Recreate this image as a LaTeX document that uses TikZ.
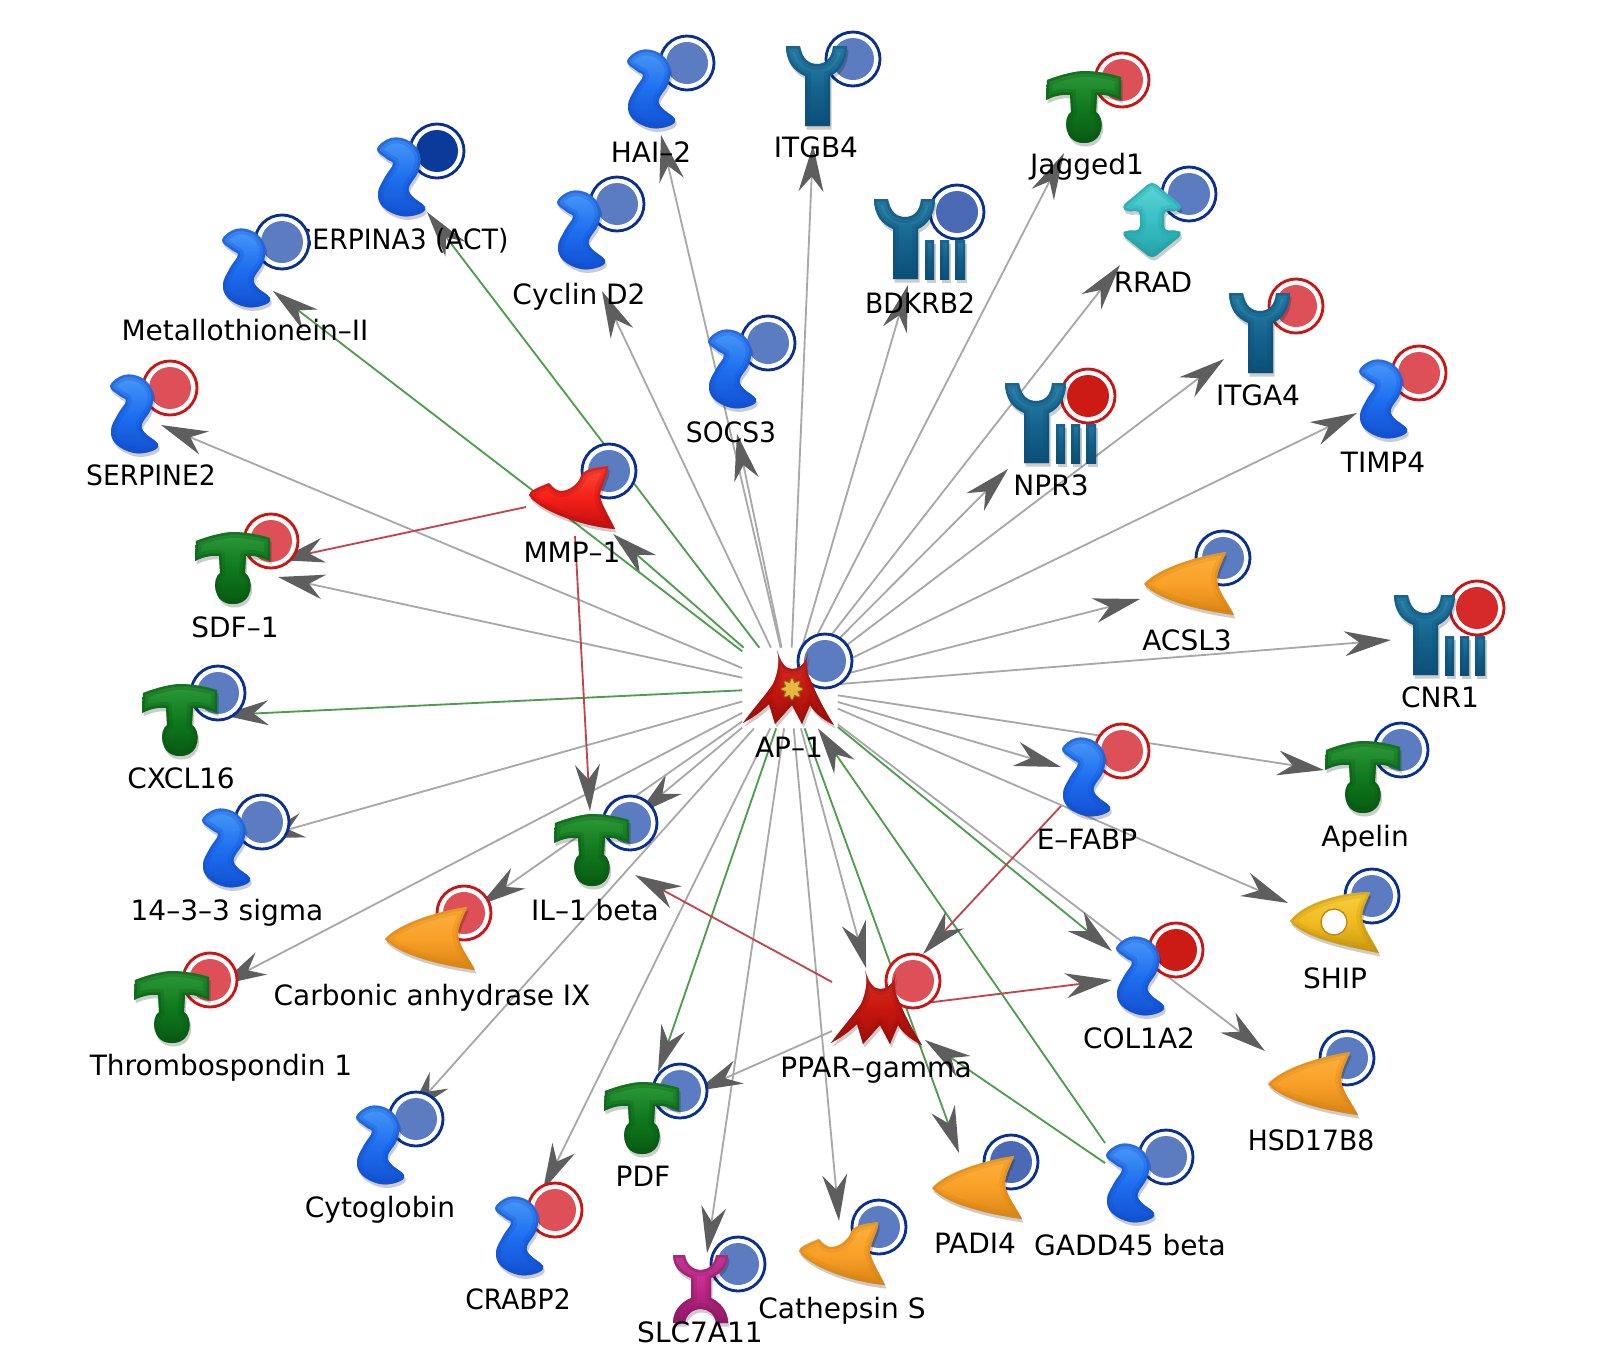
\documentclass[tikz,border=0pt]{standalone}
\usepackage{fontspec}
\setmainfont{DejaVu Sans}
\usetikzlibrary{arrows.meta}
\definecolor{ag}{HTML}{5E5E5E}
\definecolor{gyL}{HTML}{A8A8A8}
\definecolor{grL}{HTML}{4C9E4C}
\definecolor{rdL}{HTML}{C4434F}
\definecolor{rb}{HTML}{0A2F92}
\definecolor{rr}{HTML}{CC1414}
\definecolor{fb}{HTML}{5B7CC0}
\definecolor{fbm}{HTML}{4A6AB5}
\definecolor{fbd}{HTML}{0A3A9A}
\definecolor{fr}{HTML}{DE5058}
\definecolor{frd}{HTML}{CC1A14}
\definecolor{frc}{HTML}{D62A2A}
\definecolor{gearF}{HTML}{E8B840}
\definecolor{gearD}{HTML}{8A6A20}
\definecolor{shipD}{HTML}{B88A10}
\tikzset{
  gy/.style={draw=gyL,line width=1.1pt,-{Stealth[length=28pt,width=15pt,inset=9pt,color=ag,line width=0pt]}},
  gn/.style={gy,draw=grL},
  rd/.style={gy,draw=rdL},
  lbl/.style={font=\fontsize{16.8}{20}\selectfont,inner sep=0pt,text=black,text height=12.3pt,text depth=0pt},
  sB/.style={draw=rb,fill=fb},
  sBm/.style={draw=rb,fill=fbm},
  sBd/.style={draw=rb,fill=fbd},
  sR/.style={draw=rr,fill=fr},
  sRd/.style={draw=rr,fill=frd},
  sRc/.style={draw=rr,fill=frc},
}
\newcommand\nrw[1]{\scalebox{.95}[1]{#1}}
% glossy glyph: path, light, base, dark
\newcommand\gl[4]{%
  \definecolor{cL}{HTML}{#2}\definecolor{cM}{HTML}{#3}\definecolor{cD}{HTML}{#4}%
  \fill[black,opacity=.2,shift={(1.5,3.5)}] #1;
  \begin{scope}
    \clip #1;
    \shade[top color=cL,bottom color=cD,middle color=cM] #1;
    \draw[cD,opacity=.25,line width=7pt] #1;
    \draw[cD,opacity=.45,line width=3pt] #1;
  \end{scope}}
\newcommand\glS{\gl{plot[smooth cycle,tension=.65] coordinates {(-60,-2) (-46,-13) (-28,-10) (-17,4) (-19,21) (-28,36) (-25,45) (-12,56) (-18,63) (-36,65) (-54,56) (-59,42) (-52,26) (-44,13) (-50,8)}}{4A9AF8}{1E70F0}{1250D0}}
\newcommand\glT{\gl{(-76,20) .. controls (-76,10) and (-75,3) .. (-75,0) .. controls (-60,-6) and (-45,-9) .. (-38,-9) .. controls (-25,-9) and (-10,-6) .. (-1,-3) -- (-1,20) .. controls (-10,16) and (-18,14) .. (-25,15) -- (-26,32) .. controls (-17,37) and (-17,63) .. (-38,63) .. controls (-59,63) and (-59,37) .. (-51,32) -- (-52,15) .. controls (-60,14) and (-68,16) .. (-76,20) -- cycle}{2E9A3A}{107A1E}{075A12}}
\newcommand\pathY{(-83,-13) -- (-69,-13) .. controls (-67,0) and (-60,5) .. (-52,5) .. controls (-44,5) and (-37,0) .. (-36,-13) -- (-22,-13) .. controls (-22,3) and (-30,13) .. (-39,17) -- (-39,67) -- (-64,67) -- (-64,17) .. controls (-75,12) and (-83,3) .. (-83,-13) -- cycle}
\newcommand\glYc{\gl{\pathY}{2F86AE}{15658F}{0C4F78}}
\newcommand\glY{\begin{scope}[shift={(16,0)}]\glYc\end{scope}}
\newcommand\glYB{\glYc
  \gl{(-32,28) rectangle (-23,67)}{2F86AE}{15658F}{0C4F78}
  \gl{(-17,28) rectangle (-8,67)}{2F86AE}{15658F}{0C4F78}
  \gl{(-2,28) rectangle (8,67)}{2F86AE}{15658F}{0C4F78}}
\newcommand\pathE{(3,-6) .. controls (-25,-2) and (-65,10) .. (-79,26) .. controls (-65,42) and (-25,52) .. (11,57) .. controls (5,45) and (-5,33) .. (-6,22) .. controls (-6,12) and (0,3) .. (3,-6) -- cycle}
\newcommand\glE{\gl{\pathE}{FCB23E}{F9A028}{D98414}}
\newcommand\glH{\gl{(-2,-4) .. controls (-28,-4) and (-68,6) .. (-82,25) .. controls (-68,42) and (-28,50) .. (7,57) .. controls (1,45) and (-9,32) .. (-10,21) .. controls (-10,12) and (-4,3) .. (-2,-4) -- cycle}{F8CE40}{F0BB20}{C8960F}
  \fill[white,draw=shipD,line width=.8pt] (-38,26) circle (13);}
\newcommand\pathP{(-1,-5) .. controls (-15,-3) and (-25,-2) .. (-28,5) .. controls (-31,15) and (-45,23) .. (-52,19) .. controls (-56,17) and (-58,14) .. (-60,12) .. controls (-70,16) and (-80,20) .. (-80,24) .. controls (-72,38) and (-30,55) .. (6,58) .. controls (0,45) and (-10,30) .. (-9,23) .. controls (-7,12) and (0,3) .. (-1,-5) -- cycle}
\newcommand\glP{\gl{\pathP}{FF4A3A}{F42018}{C01010}}
\newcommand\glPo{\gl{\pathP}{FCB23E}{F9A028}{D98414}}
\newcommand\pathF{(-48,-11) .. controls (-45,0) and (-40,8) .. (-33,8) .. controls (-27,8) and (-21,5) .. (-17,-7) .. controls (-20,5) and (-18,12) .. (-14,20) .. controls (-8,35) and (0,50) .. (9,64) .. controls (-3,58) and (-10,52) .. (-15,44) -- (-23,63) -- (-33,44) -- (-50,63) -- (-56,43) .. controls (-65,52) and (-75,58) .. (-82,62) .. controls (-72,48) and (-60,35) .. (-52,23) .. controls (-47,12) and (-45,0) .. (-48,-11) -- cycle}
\newcommand\glF{\gl{\pathF}{D83A30}{C8170F}{9E100A}}
\newcommand\glFg{\glF
  \filldraw[fill=gearF,draw=gearD,line width=.6pt] plot[domain=0:360,samples=49,variable=\t] ({-33+(9+2*cos(8*\t))*cos(\t)},{28+(9+2*cos(8*\t))*sin(\t)}) -- cycle;}
\newcommand\glX{\gl{(-65,-9) -- (-53,-9) .. controls (-52,0) and (-45,6) .. (-37,6) .. controls (-30,6) and (-23,0) .. (-22,-9) -- (-10,-9) .. controls (-10,3) and (-18,10) .. (-27,14) -- (-27,34) .. controls (-18,38) and (-10,47) .. (-10,59) -- (-22,59) .. controls (-23,50) and (-30,45) .. (-37,45) .. controls (-45,45) and (-52,50) .. (-53,59) -- (-65,59) .. controls (-65,47) and (-57,38) .. (-47,34) -- (-47,14) .. controls (-57,10) and (-65,3) .. (-65,-9) -- cycle}{D040A0}{C2288A}{8E1A66}}
\newcommand\glR{\gl{[rounded corners=3pt] (-37,-13) -- (-6,13) -- (-12,18) -- (-25,16) -- (-25,37) -- (-12,36) -- (-6,40) -- (-37,65) -- (-68,40) -- (-62,36) -- (-49,37) -- (-49,16) -- (-62,18) -- (-68,13) -- cycle}{5CD8DA}{38C0C4}{24A0A6}}
% entity: id, circle centre, status style, glyph
\newcommand\ent[4]{%
  \begin{scope}[shift={(#2)}]
    \draw[#3,line width=1.7pt,fill=white] (0,0) circle (27);
    \fill[#3,draw=none] (0,0) circle (21);
    #4
  \end{scope}
  \coordinate (#1) at (#2);}
\begin{document}
\begin{tikzpicture}[x=0.6pt,y=-0.6pt]
\fill[white] (0,0) rectangle (1600,1357);
\useasboundingbox (0,0) rectangle (1600,1357);
% hub and connector ends
\node[inner sep=0pt,minimum width=57pt,minimum height=48pt] (ap1) at (790,688) {};
\foreach \n/\p in {
 tHAI/{661,135},tITGB/{813,145},tJag/{1064,153},tCyc/{602,291},tBDK/{908,285},tRRAD/{1120,265},
 tSOCS/{737,434},tITGA/{1224,359},tNPR/{1008,469},tTIMP/{1357,413},tSE2/{161,425},tSDFa/{278,577},
 tACSL/{1140,599},tCNR/{1391,640},tCXCL/{222,715},tEFABP/{1061,767},tApl/{1324,770},tSHIP/{1288,903},
 tCOLa/{1112,951},tHSD/{1265,1051},t1433/{258,838},tILa/{638,814},tCA/{480,905},tTSP/{220,985},
 tCyt/{408,1115},tCRA/{543,1190},tPDFa/{658,1072},tPDFb/{696,1091},tSLC/{707,1253},tCat/{839,1221},
 tPAD/{959,1153},tPPa/{866,968},tPPb/{925,1040},tPPc/{923,954},tCOLb/{1112,980},tILb/{635,875},
 tSDFb/{278,560},tILc/{590,811},tMMP/{613,534},tMT/{273,291},tSA3/{427,212},
 sGa/{1105,1143},sGb/{1105,1163},sEF/{1061,806},sPa/{925,1003},sPb/{832,982},sPc/{832,1031},
 sMa/{526,507},sMb/{575,536}}
 {\coordinate (\n) at (\p);}
% connectors
\foreach \e in {tHAI,tITGB,tJag,tCyc,tBDK,tRRAD,tSOCS,tITGA,tNPR,tTIMP,tSE2,tSDFa,tACSL,tCNR,tEFABP,tApl,tSHIP,tHSD,t1433,tILa,tCA,tTSP,tCyt,tCRA,tSLC,tCat,tPPa}
  {\draw[gy] (ap1) -- (\e);}
\foreach \e in {tCXCL,tCOLa,tPDFa,tPAD,tMMP,tMT,tSA3}
  {\draw[gn] (ap1) -- (\e);}
\draw[gn] (sGa) -- (ap1);
\draw[gn] (sGb) -- (tPPb);
\draw[gy] (sPc) -- (tPDFb);
\draw[rd] (sEF) -- (tPPc);
\draw[rd] (sPa) -- (tCOLb);
\draw[rd] (sPb) -- (tILb);
\draw[rd] (sMa) -- (tSDFb);
\draw[rd] (sMb) -- (tILc);
% label that the next icons overlap
\node[lbl] (lSA3) at (402,239) {\nrw{SERPINA3 (ACT)}};
% icons
\ent{HAI}{687,63}{sB}{\glS}
\ent{ITGB}{853,59}{sB}{\glY}
\ent{Jag}{1122,80}{sR}{\glT}
\ent{SA3}{437,151}{sBd}{\glS}
\ent{Cyc}{617,204}{sB}{\glS}
\ent{BDK}{957,212}{sBm}{\glYB}
\ent{RRAD}{1189,194}{sB}{\glR}
\ent{MT}{282,242}{sB}{\glS}
\ent{SOCS}{768,343}{sB}{\glS}
\ent{ITGA}{1296,306}{sR}{\glY}
\ent{NPR}{1088,396}{sRd}{\glYB}
\ent{TIMP}{1419,373}{sR}{\glS}
\ent{SE2}{170,388}{sR}{\glS}
\ent{MMP}{609,471}{sB}{\glP}
\ent{SDF}{271,541}{sR}{\glT}
\ent{ACSL}{1223,558}{sB}{\glE}
\ent{CNR}{1477,608}{sRc}{\glYB}
\ent{APa}{825,661}{sB}{\glFg}
\ent{CXCL}{218,693}{sB}{\glT}
\ent{EFABP}{1122,751}{sR}{\glS}
\ent{Apl}{1401,750}{sB}{\glT}
\ent{C1433}{262,822}{sB}{\glS}
\ent{IL}{630,823}{sB}{\glT}
\ent{SHIP}{1372,896}{sB}{\glH}
\ent{CA}{464,913}{sR}{\glE}
\ent{TSP}{210,980}{sR}{\glT}
\ent{PPAR}{913,981}{sR}{\glF}
\ent{COL}{1176,950}{sRd}{\glS}
\ent{HSD}{1347,1058}{sB}{\glE}
\ent{PDF}{680,1091}{sB}{\glT}
\ent{Cyt}{416,1119}{sB}{\glS}
\ent{CRA}{555,1210}{sR}{\glS}
\ent{PAD}{1011,1162}{sBm}{\glE}
\ent{GAD}{1166,1157}{sB}{\glS}
\ent{Cat}{879,1227}{sB}{\glPo}
\ent{SLC}{738,1264}{sB}{\glX}
% labels
\node[lbl] (lHAI) at (651,152) {HAI–2};
\node[lbl] (lITGB) at (816,147) {ITGB4};
\node[lbl] (lJag) at (1087,164) {Jagged1};
\node[lbl] (lCyc) at (579,294) {Cyclin D2};
\node[lbl] (lBDK) at (920,303) {\nrw{BDKRB2}};
\node[lbl] (lRRAD) at (1153,282) {RRAD};
\node[lbl] (lMT) at (245,330) {Metallothionein–II};
\node[lbl] (lSOCS) at (731,432) {\nrw{SOCS3}};
\node[lbl] (lITGA) at (1258,395) {ITGA4};
\node[lbl] (lNPR) at (1051,485) {NPR3};
\node[lbl] (lTIMP) at (1383,462) {TIMP4};
\node[lbl] (lSE2) at (151,475) {\nrw{SERPINE2}};
\node[lbl] (lMMP) at (572,552) {MMP–1};
\node[lbl] (lSDF) at (235,627) {SDF–1};
\node[lbl] (lACSL) at (1187,640) {ACSL3};
\node[lbl] (lCNR) at (1440,697) {CNR1};
\node[lbl] (lAP) at (789,747) {AP–1};
\node[lbl] (lCXCL) at (181,778) {CXCL16};
\node[lbl] (lEF) at (1087,839) {E–FABP};
\node[lbl] (lApl) at (1365,836) {Apelin};
\node[lbl] (l1433) at (227,910) {14–3–3 sigma};
\node[lbl] (lIL) at (595,910) {IL–1 beta};
\node[lbl] (lSHIP) at (1335,978) {SHIP};
\node[lbl] (lCA) at (432,995) {Carbonic anhydrase IX};
\node[lbl] (lTSP) at (221,1065) {Thrombospondin 1};
\node[lbl] (lPP) at (876,1067) {PPAR–gamma};
\node[lbl] (lCOL) at (1139,1038) {COL1A2};
\node[lbl] (lHSD) at (1311,1140) {\nrw{HSD17B8}};
\node[lbl] (lPDF) at (643,1176) {PDF};
\node[lbl] (lCyt) at (380,1207) {Cytoglobin};
\node[lbl] (lCRA) at (518,1299) {\nrw{CRABP2}};
\node[lbl] (lPAD) at (975,1243) {PADI4};
\node[lbl] (lGAD) at (1130,1245) {GADD45 beta};
\node[lbl] (lCat) at (842,1308) {Cathepsin S};
\node[lbl] (lSLC) at (700,1332) {SLC7A11};
\end{tikzpicture}
\end{document}
